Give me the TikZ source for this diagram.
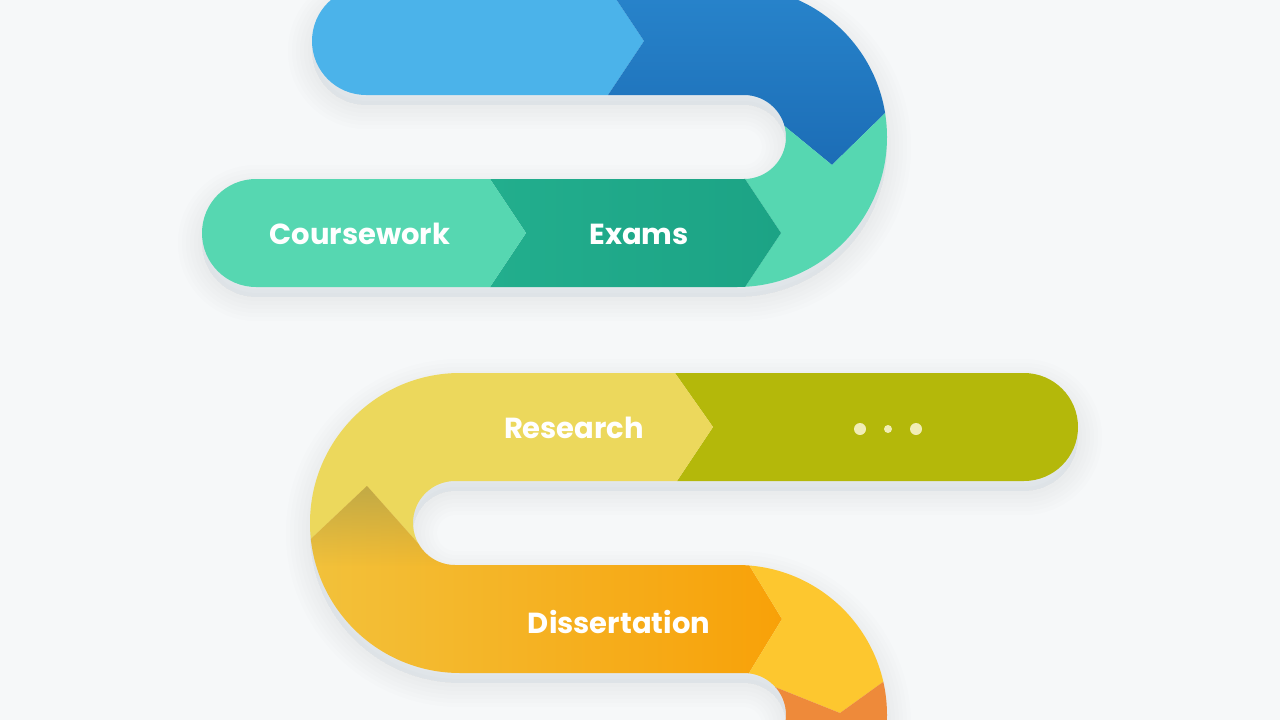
\documentclass[tikz,border=0pt]{standalone}
\usepackage{fontspec}
\setmainfont{Poppins}
\usetikzlibrary{fadings}
\definecolor{bg}{HTML}{F6F8F9}
\definecolor{lblue}{HTML}{4BB3EA}
\definecolor{dblueA}{HTML}{2A89D0}
\definecolor{dblueB}{HTML}{1C6DB6}
\definecolor{lteal}{HTML}{56D7B1}
\definecolor{dtealA}{HTML}{22AE8D}
\definecolor{dtealB}{HTML}{1CA385}
\definecolor{ryel}{HTML}{ECD85C}
\definecolor{olive}{HTML}{B4B80A}
\definecolor{khaki}{HTML}{BFA947}
\definecolor{dsL}{HTML}{F2C23C}
\definecolor{dsR}{HTML}{F8A108}
\definecolor{yr}{HTML}{FDC72F}
\definecolor{orng}{HTML}{EE8A3A}
\definecolor{dotc}{HTML}{F1EDB5}
\definecolor{shc}{HTML}{50708C}
\tikzfading[name=kfade, top color=transparent!0, bottom color=transparent!100]
\def\topband{(366,-13) -- (737,-13) arc[start angle=270,end angle=450,radius=150] -- (256,287) arc[start angle=90,end angle=270,radius=54] -- (744,179) arc[start angle=90,end angle=-90,radius=42] -- (366,95) arc[start angle=90,end angle=270,radius=54] -- cycle}
\def\botband{(1024,373) arc[start angle=270,end angle=450,radius=54] -- (455,481) arc[start angle=270,end angle=90,radius=42] -- (737,565) arc[start angle=270,end angle=450,radius=150] -- (600,865) -- (600,757) -- (744,757) arc[start angle=90,end angle=-90,radius=42] -- (460,673) arc[start angle=90,end angle=270,radius=150] -- cycle}
\begin{document}
\begin{tikzpicture}[x=1pt,y=-1pt,
  lab/.style={text=white, font=\bfseries\fontsize{29}{31}\selectfont, inner sep=0pt},
  shadowlayer/.style={draw=shc, fill=shc, line width=#1, draw opacity=0.011, fill opacity=0.008, line join=round, yshift=-10pt}]
\useasboundingbox (0,0) rectangle (1280,720);
\fill[bg] (0,0) rectangle (1280,720);
\clip (0,0) rectangle (1280,720);
% soft shadows
\foreach \w in {48pt,40pt,32pt,24pt,16pt,8pt}{
  \path[shadowlayer=\w] \topband;
  \path[shadowlayer=\w] \botband;
}
% top ribbon
\begin{scope}
\clip \topband;
\fill[lblue] (200,-50) -- (608,-50) -- (608,-13) -- (644,41) -- (608,95) -- (608,124) -- (200,124) -- cycle;
\shade[top color=dblueA, bottom color=dblueB] (608,-50) -- (960,-50) -- (960,40) -- (832,165) -- (782,124) -- (608,124) -- (608,95) -- (644,41) -- (608,-13) -- cycle;
\fill[lteal] (782,124) -- (832,165) -- (960,40) -- (960,320) -- (745,320) -- (745,287) -- (781,233) -- (745,179) -- cycle;
\shade[left color=dtealA, right color=dtealB] (490,150) -- (745,150) -- (745,179) -- (781,233) -- (745,287) -- (745,320) -- (490,320) -- (490,287) -- (526,233) -- (490,179) -- cycle;
\fill[lteal] (150,150) -- (490,150) -- (490,179) -- (526,233) -- (490,287) -- (490,320) -- (150,320) -- cycle;
\end{scope}
% bottom ribbon
\begin{scope}
\clip \botband;
\fill[olive] (675,340) -- (1100,340) -- (1100,520) -- (677,520) -- (677,481) -- (713,427) -- (675,373) -- cycle;
\fill[ryel] (675,340) -- (675,373) -- (713,427) -- (677,481) -- (677,520) -- (440,520) -- (424,550) -- (367,486) -- (280,568) -- (250,568) -- (250,340) -- cycle;
\begin{scope}
\clip (367,486) -- (424,550) -- (460,540) -- (749,540) -- (749,565) -- (782,619) -- (749,673) -- (749,700) -- (250,700) -- (250,568) -- (280,568) -- cycle;
\shade[left color=dsL, right color=dsR] (300,470) rectangle (782,700);
\fill[khaki, path fading=kfade] (300,482) rectangle (470,566);
\end{scope}
\fill[yr] (749,540) -- (960,540) -- (960,626.5) -- (840,713) -- (770,685) -- (749,700) -- (749,673) -- (782,619) -- (749,565) -- cycle;
\fill[orng] (770,685) -- (840,713) -- (960,626.5) -- (960,900) -- (749,900) -- (749,700) -- cycle;
\end{scope}
% dots
\fill[dotc] (860,429) circle[radius=6];
\fill[dotc] (888,429) circle[radius=4];
\fill[dotc] (916,429) circle[radius=6];
% labels
\node[lab] (cw) at (360,234) {Coursework};
\node[lab] (ex) at (639,234) {Exams};
\node[lab] (rs) at (574,428) {Research};
\node[lab] (ds) at (619,622) {Dissertation};
\end{tikzpicture}
\end{document}
